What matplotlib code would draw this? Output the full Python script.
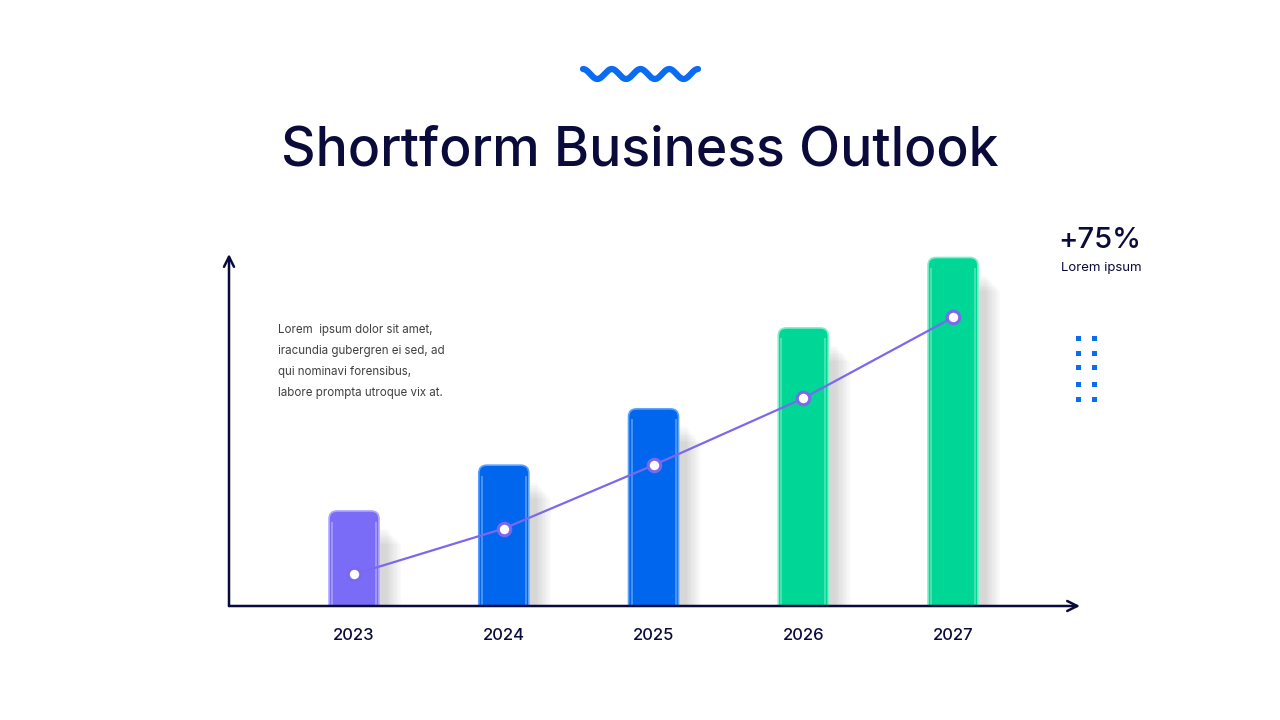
import numpy as np
import matplotlib.pyplot as plt
from matplotlib.patches import FancyBboxPatch, Rectangle

plt.rcParams['font.family'] = ['Inter', 'DejaVu Sans']

years = ['2023', '2024', '2025', '2026', '2027']
bar_values = [27, 40, 56, 79, 99]
line_values = [9, 22, 40, 59, 82]
bar_colors = ['#7b6cf7', '#0066ee', '#0066ee', '#00d696', '#00d696']
edge_colors = ['#b0a8ff', '#5aa0ff', '#5aa0ff', '#7ff0c8', '#7ff0c8']

navy = '#0b0b3b'
line_color = '#7b68ee'

fig = plt.figure(figsize=(12.8, 7.2), dpi=100)
ax = fig.add_axes([229 / 1280, 114 / 720, 851 / 1280, 352 / 720])

x = np.arange(len(years))
ax.set_xlim(-0.835, 4.848)
ax.set_ylim(0, 100)

# pixels per data unit, used to keep rounded corners round
px_x = 851 / (4.848 + 0.835)
px_y = 352 / 100
aspect = px_x / px_y
bw = 50 / px_x
r = 8 / px_x

for i, v in enumerate(bar_values):
    # soft shadow on the right
    for k in range(10):
        ax.add_patch(Rectangle((x[i] - bw / 2 + 6 / px_x, 0),
                               bw + (2 + k * 1.6) / px_x, v - 5 - k * 0.5,
                               facecolor='#000000', alpha=0.016,
                               edgecolor='none', zorder=1))
    ax.add_patch(FancyBboxPatch((x[i] - bw / 2, -10), bw, v + 10,
                                boxstyle='round,pad=0,rounding_size=%f' % r,
                                mutation_aspect=aspect,
                                facecolor=bar_colors[i], edgecolor=edge_colors[i],
                                linewidth=1.2, zorder=2))
    # glossy edge highlights
    for dx in (-bw / 2 + 3 / px_x, bw / 2 - 3 / px_x):
        ax.plot([x[i] + dx, x[i] + dx], [0, v - 3], color='white', alpha=0.35,
                lw=1.2, zorder=3, solid_capstyle='butt')

ax.plot(x, line_values, color=line_color, lw=1.6, zorder=4)
ax.plot(x, line_values, 'o', color='white', markeredgecolor=line_color,
        markersize=9, markeredgewidth=2.2, zorder=5)

for s in ax.spines.values():
    s.set_visible(False)
ax.set_yticks([])
ax.set_xticks(x)
ax.set_xticklabels(years, fontsize=12, color=navy, fontweight='medium')
ax.tick_params(axis='x', length=0, pad=16)

# axis arrows
ax.annotate('', xy=(1, 0), xytext=(0, 0), xycoords='axes fraction',
            arrowprops=dict(arrowstyle='->', color=navy, lw=1.8,
                            mutation_scale=18, shrinkA=0, shrinkB=0), zorder=6)
ax.annotate('', xy=(0, 1), xytext=(0, 0), xycoords='axes fraction',
            arrowprops=dict(arrowstyle='->', color=navy, lw=1.8,
                            mutation_scale=18, shrinkA=0, shrinkB=0), zorder=6)

# title and decorations
fig.text(0.5, 1 - 151 / 720, 'Shortform Business Outlook', ha='center', va='center',
         fontsize=38.5, color=navy, fontweight='medium')

wx = np.linspace(583, 698, 200)
wy = 74 + 5 * np.sin((wx - 583) / 115 * 4 * 2 * np.pi + np.pi / 2 + np.pi)
fig.add_artist(plt.Line2D(wx / 1280, 1 - wy / 720, color='#0a6cf0', lw=4.5,
                          solid_capstyle='round'))

fig.text(1100 / 1280, 1 - 241 / 720, '+75%', ha='center', va='center',
         fontsize=21, color=navy, fontweight='medium')
fig.text(1101 / 1280, 1 - 268 / 720, 'Lorem ipsum', ha='center', va='center',
         fontsize=9.5, color=navy)

for dxp in (1078, 1094):
    for dyp in (338, 353, 368, 384, 399):
        fig.add_artist(Rectangle(((dxp - 2.5) / 1280, 1 - (dyp + 2.5) / 720),
                                 5 / 1280, 5 / 720, facecolor='#0a6cf0',
                                 edgecolor='none'))

para = ['Lorem  ipsum dolor sit amet,',
        'iracundia gubergren ei sed, ad',
        'qui nominavi forensibus,',
        'labore prompta utroque vix at.']
for j, t in enumerate(para):
    fig.text(278 / 1280, 1 - (330 + 21 * j) / 720, t, ha='left', va='center',
             fontsize=8.3, color='#404040')

fig.savefig('out.png', dpi=100, facecolor='white')
